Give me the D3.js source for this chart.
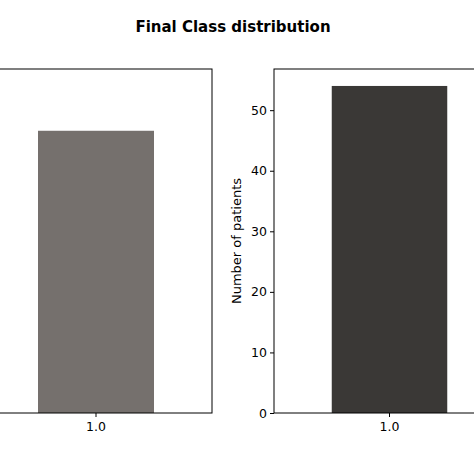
<!DOCTYPE html><html><head><script src="https://cdn.jsdelivr.net/npm/d3@7"></script>
<style>body{margin:0;background:#fff}</style></head><body><svg width="474" height="474"></svg><script>
const categories=["1.0"];
const leftValues=[46.6];
const rightValues=[54];
const yMax=56.8;
const yTicks=[0,10,20,30,40,50];
const svg=d3.select("svg");
svg.append("text").attr("x",233).attr("y",32).attr("text-anchor","middle").attr("font-family","DejaVu Sans").attr("font-weight","bold").attr("font-size",15).text("Final Class distribution");
function panel(x0,x1,vals,color,axis){
 const x=d3.scaleBand().domain(categories).range([x0,x1]).paddingInner(0).paddingOuter(0.5);
 const y=d3.scaleLinear().domain([0,yMax]).range([413,69]);
 svg.selectAll(null).data(vals).enter().append("rect").attr("x",(d,i)=>x(categories[i])).attr("width",x.bandwidth()).attr("y",d=>y(d)).attr("height",d=>413-y(d)).attr("fill",color);
 svg.append("rect").attr("x",x0).attr("y",69).attr("width",x1-x0).attr("height",344).attr("fill","none").attr("stroke","#000").attr("stroke-width",1);
 const gx=svg.append("g").attr("transform","translate(0,413)").call(d3.axisBottom(x).tickSizeOuter(0).tickSize(4));
 gx.select(".domain").remove();
 gx.selectAll("text").attr("font-family","DejaVu Sans").attr("font-size",12.5).attr("dy","0.9em");
 if(axis){
  const gy=svg.append("g").attr("transform",`translate(${x0},0)`).call(d3.axisLeft(y).tickValues(yTicks).tickSize(4));
  gy.select(".domain").remove();
  gy.selectAll("text").attr("font-family","DejaVu Sans").attr("font-size",12.5);
  svg.append("text").attr("transform",`translate(241,241) rotate(-90)`).attr("text-anchor","middle").attr("font-family","DejaVu Sans").attr("font-size",13).text("Number of patients");
 }
}
panel(-20,212,leftValues,"#75706d",false);
panel(274,505,rightValues,"#3a3836",true);
</script></body></html>
